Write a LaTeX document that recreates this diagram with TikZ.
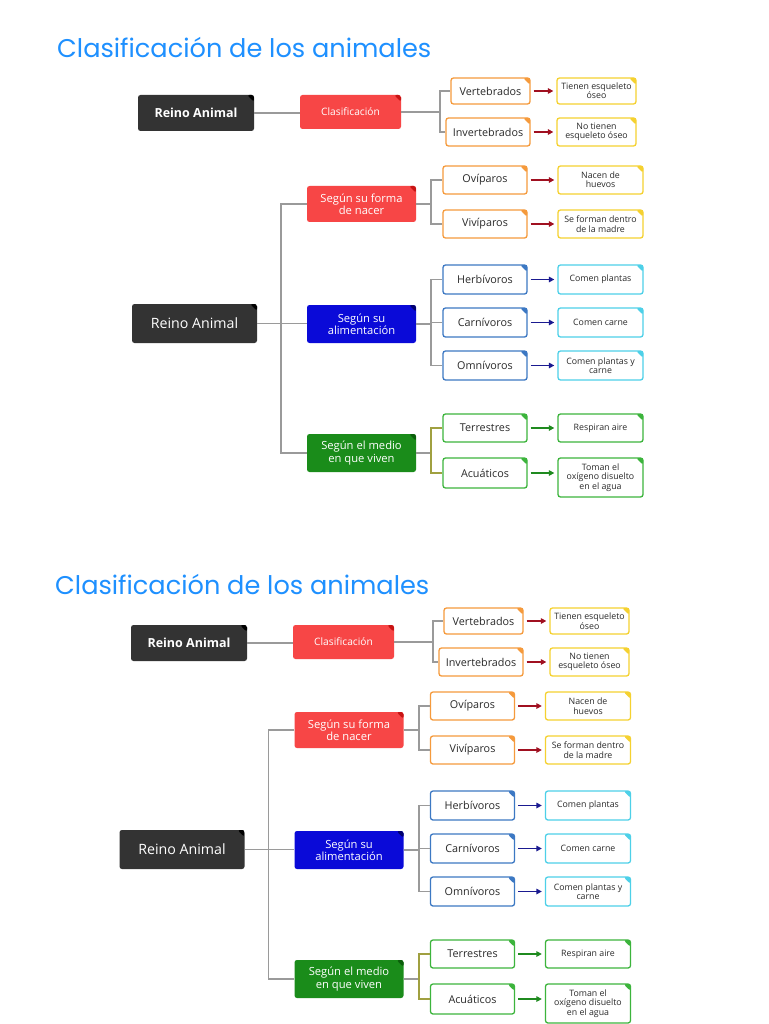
\documentclass[tikz,border=0pt]{standalone}
\usepackage{fontspec}
\setmainfont{Open Sans}
\newfontfamily\titlefont{Poppins}
\usetikzlibrary{arrows.meta,calc}
\definecolor{titleblue}{HTML}{1E90FF}
\definecolor{darkbox}{HTML}{333333}
\definecolor{redbox}{HTML}{F74646}
\definecolor{redtri}{HTML}{C81414}
\definecolor{bluebox}{HTML}{0A0AD8}
\definecolor{bluetri}{HTML}{00006E}
\definecolor{greenbox}{HTML}{1A8C1A}
\definecolor{greentri}{HTML}{0B5E0B}
\definecolor{orangeln}{HTML}{F59A3C}
\definecolor{yellowln}{HTML}{F5D130}
\definecolor{blueln}{HTML}{3C78C3}
\definecolor{cyanln}{HTML}{4DD0E8}
\definecolor{greenln}{HTML}{3CB43C}
\definecolor{connc}{HTML}{9A9A9A}
\definecolor{olivec}{HTML}{A0A040}
\definecolor{arrred}{HTML}{A01020}
\definecolor{arrblue}{HTML}{1A1A90}
\definecolor{arrgreen}{HTML}{1F8A1F}
\definecolor{txt}{HTML}{2A2A2A}
\tikzset{
  corner/.style={path picture={\fill[#1] ([xshift=-7pt]path picture bounding box.north east) -- (path picture bounding box.north east) -- ([yshift=-7pt]path picture bounding box.north east) -- cycle;}},
  basebox/.style={rectangle, rounded corners=2.5pt, inner sep=0pt, align=center},
  darkn/.style={basebox, fill=darkbox, text=white, corner=black},
  catn/.style 2 args={basebox, fill=#1, text=white, corner=#2, font=\fontsize{11.2}{12.2}\selectfont},
  itemn/.style={basebox, fill=white, draw=#1, line width=1.3pt, corner=#1, text=txt, font=\fontsize{10.8}{12}\selectfont},
  leafn/.style={basebox, fill=white, draw=#1, line width=1.3pt, corner=#1, text=txt, font=\fontsize{8.8}{9.4}\selectfont},
  conn/.style={draw=connc, line width=1.6pt},
  arr/.style={draw=#1, line width=1.6pt, shorten <=3pt, shorten >=3pt, -{Triangle[length=5.5pt,width=5.5pt]}},
}
\newcommand{\secA}{%
  \node[darkn, minimum width=116pt, minimum height=36pt, font=\bfseries\fontsize{12.5}{14}\selectfont] (ra1) at (196,113) {Reino Animal};
  \node[catn={redbox}{redtri}, minimum width=101pt, minimum height=34pt, font=\fontsize{10.2}{11}\selectfont] (cl) at (350.5,112) {Clasificación};
  \node[itemn=orangeln, minimum width=79pt, minimum height=26pt] (vert) at (490.5,91) {Vertebrados};
  \node[itemn=orangeln, minimum width=84pt, minimum height=28pt] (invert) at (488,132) {Invertebrados};
  \node[leafn=yellowln, minimum width=79pt, minimum height=26pt] (tien) at (596.5,91) {Tienen esqueleto\\óseo};
  \node[leafn=yellowln, minimum width=79pt, minimum height=28pt] (notien) at (596.5,132) {No tienen\\esqueleto óseo};
  \draw[conn] (ra1.east) -- (ra1.east -| cl.west);
  \draw[conn] (cl.east) -- ++(39,0) |- (vert.west);
  \draw[conn] (cl.east) -- ++(39,0) |- (invert.west);
  \draw[arr=arrred] (vert.east) -- (vert.east -| tien.west);
  \draw[arr=arrred] (invert.east) -- (invert.east -| notien.west);
}
\newcommand{\secB}{%
  \node[darkn, minimum width=125pt, minimum height=39pt, font=\fontsize{14.2}{16}\selectfont] (ra2) at (194.5,323.5) {Reino Animal};
  \node[catn={redbox}{redtri}, minimum width=109pt, minimum height=36pt] (forma) at (361.5,204) {Según su forma\\de nacer};
  \node[catn={bluebox}{bluetri}, minimum width=109pt, minimum height=38pt] (alim) at (361.5,324) {Según su\\alimentación};
  \node[catn={greenbox}{greentri}, minimum width=109pt, minimum height=38pt] (medio) at (361.5,453) {Según el medio\\en que viven};
  \node[itemn=orangeln, minimum width=84pt, minimum height=28pt] (ovi) at (485,180) {Ovíparos};
  \node[itemn=orangeln, minimum width=84pt, minimum height=28pt] (vivi) at (485,224) {Vivíparos};
  \node[itemn=blueln, minimum width=84pt, minimum height=29pt] (herb) at (485,279.5) {Herbívoros};
  \node[itemn=blueln, minimum width=84pt, minimum height=29pt] (carn) at (485,322.5) {Carnívoros};
  \node[itemn=blueln, minimum width=84pt, minimum height=29pt] (omni) at (485,365.5) {Omnívoros};
  \node[itemn=greenln, minimum width=84pt, minimum height=28pt] (terr) at (485,428) {Terrestres};
  \node[itemn=greenln, minimum width=84pt, minimum height=30pt] (acua) at (485,473) {Acuáticos};
  \node[leafn=yellowln, minimum width=85pt, minimum height=28pt] (nacen) at (600.5,180) {Nacen de\\huevos};
  \node[leafn=yellowln, minimum width=85pt, minimum height=28pt] (sef) at (600.5,224) {Se forman dentro\\de la madre};
  \node[leafn=cyanln, minimum width=85pt, minimum height=29pt] (cp) at (600.5,279.5) {Comen plantas};
  \node[leafn=cyanln, minimum width=85pt, minimum height=29pt] (cc) at (600.5,322.5) {Comen carne};
  \node[leafn=cyanln, minimum width=85pt, minimum height=29pt] (cpc) at (600.5,365.5) {Comen plantas y\\carne};
  \node[leafn=greenln, minimum width=85pt, minimum height=28pt] (resp) at (600.5,428) {Respiran aire};
  \node[leafn=greenln, minimum width=85pt, minimum height=39pt] (toman) at (600.5,477.5) {Toman el\\oxígeno disuelto\\en el agua};
  \draw[conn] (ra2.east) -- (ra2.east -| alim.west);
  \draw[conn] (forma.west) -- ++(-26,0) |- (medio.west);
  \draw[conn] (forma.east) -- ++(15,0) |- (ovi.west);
  \draw[conn] (forma.east) -- ++(15,0) |- (vivi.west);
  \draw[conn] (alim.east) -- ++(15,0) |- (herb.west);
  \draw[conn] (alim.east) -- ++(15,0) |- (carn.west);
  \draw[conn] (alim.east) -- ++(15,0) |- (omni.west);
  \draw[conn] (medio.east) -- ++(15,0) coordinate (mj);
  \draw[conn, draw=olivec] (mj) |- (terr.west);
  \draw[conn, draw=olivec] (mj) |- (acua.west);
  \draw[arr=arrred] (ovi.east) -- (ovi.east -| nacen.west);
  \draw[arr=arrred] (vivi.east) -- (vivi.east -| sef.west);
  \draw[arr=arrblue] (herb.east) -- (herb.east -| cp.west);
  \draw[arr=arrblue] (carn.east) -- (carn.east -| cc.west);
  \draw[arr=arrblue] (omni.east) -- (omni.east -| cpc.west);
  \draw[arr=arrgreen] (terr.east) -- (terr.east -| resp.west);
  \draw[arr=arrgreen] (acua.east) -- (acua.east -| toman.west);
}
\begin{document}
\begin{tikzpicture}[x=1pt,y=-1pt]
\useasboundingbox[fill=white] (0,0) rectangle (768,1024);
\node[anchor=base west, inner sep=0pt, text=titleblue, font=\titlefont\fontsize{25.6}{27}\selectfont] (title1) at (57,58) {Clasificación de los animales};
\node[anchor=base west, inner sep=0pt, text=titleblue, font=\titlefont\fontsize{25.6}{27}\selectfont] (title2) at (55,594) {Clasificación de los animales};
\begin{scope}[name prefix=t-]\secA\end{scope}
\begin{scope}[name prefix=t-]\secB\end{scope}
\begin{scope}[shift={(-7,530)}, name prefix=b-]\secA\end{scope}
\begin{scope}[shift={(-12.5,526)}, name prefix=b-]\secB\end{scope}
\end{tikzpicture}
\end{document}
